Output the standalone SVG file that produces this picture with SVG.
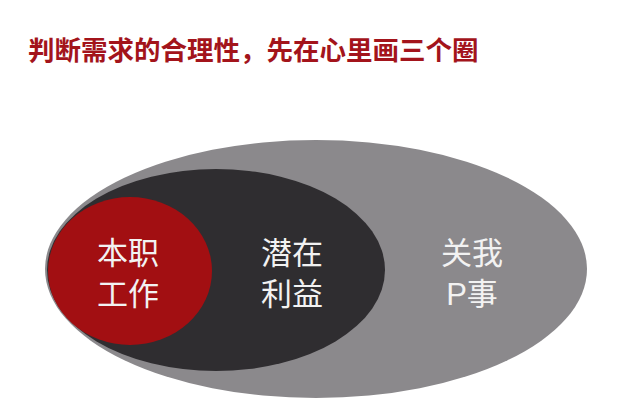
<svg xmlns="http://www.w3.org/2000/svg" width="640" height="408" viewBox="0 0 640 408">
<style>
.t{font-family:"Noto Sans CJK SC","Noto Sans",sans-serif;}
.lbl{font-family:"Liberation Sans","Noto Sans CJK SC",sans-serif;font-size:31px;fill:#f2f2f2;text-anchor:middle;}
</style>
<rect width="640" height="408" fill="#ffffff"/>
<text class="t" x="28" y="60" font-size="26.5" font-weight="bold" fill="#a3141b">判断需求的合理性，先在心里画三个圈</text>
<g id="outer">
<ellipse cx="316" cy="269" rx="271" ry="129" fill="#8b898c"/>
<text class="lbl" x="472" y="264">关我</text>
<text class="lbl" x="472" y="305">P事</text>
</g>
<g id="middle">
<ellipse cx="216" cy="270" rx="169" ry="101" fill="#2f2d30"/>
<text class="lbl" x="292" y="264">潜在</text>
<text class="lbl" x="292" y="305">利益</text>
</g>
<g id="inner">
<ellipse cx="130" cy="271" rx="82" ry="74" fill="#a20f12"/>
<text class="lbl" x="128" y="264">本职</text>
<text class="lbl" x="128" y="305">工作</text>
</g>
<g id="connectors"/>
</svg>
